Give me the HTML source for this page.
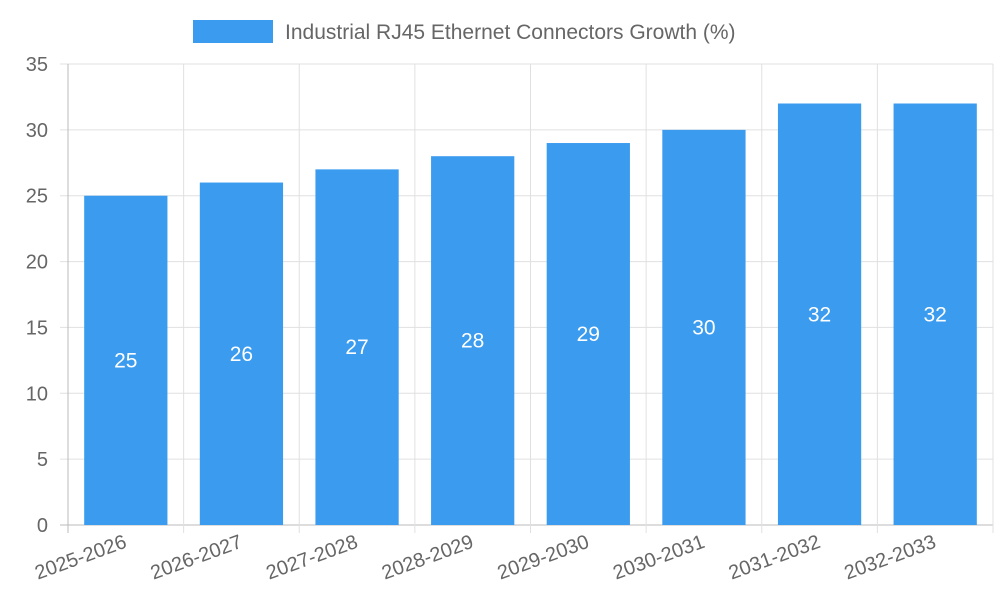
<!DOCTYPE html>
<html><head><meta charset="utf-8"><style>
body{margin:0;background:#fff;}
svg{display:block;font-family:"Liberation Sans",sans-serif;}
</style></head><body>
<svg id="chart" width="1000" height="600">
<g id="legend">
<rect x="193" y="20" width="80" height="23" fill="#3a9bef"></rect>
<text x="285" y="39" font-size="21" fill="#666">Industrial RJ45 Ethernet Connectors Growth (%)</text>
</g>
<g id="grid"></g><g id="bars"></g><g id="axes"></g>
</svg>
<script>
const categories=["2025-2026","2026-2027","2027-2028","2028-2029","2029-2030","2030-2031","2031-2032","2032-2033"];
const values=[25,26,27,28,29,30,32,32];
const yTicks=[0,5,10,15,20,25,30,35];
const NS="http://www.w3.org/2000/svg";
const L=68,R=993,T=64,B=525,yMax=35;
const bw=(R-L)/categories.length;
function x(i){return L+bw*i;}
function y(v){return B-(B-T)*v/yMax;}
function mk(p,tag,a){const e=document.createElementNS(NS,tag);for(const k in a)e.setAttribute(k,a[k]);p.appendChild(e);return e;}
const grid=document.getElementById('grid'),bars=document.getElementById('bars'),axes=document.getElementById('axes');
yTicks.forEach(t=>{
 const gl=mk(grid,'line',{x1:60,x2:R,y1:y(t),y2:y(t),stroke:t===0?'#bbb':'#e0e0e0','stroke-width':1});
 
 
 const tx=mk(axes,'text',{x:48,y:y(t)+7,'font-size':20,fill:'#666','text-anchor':'end'});
 tx.textContent=t;
 
 
});
for(let i=0;i<=categories.length;i++){
 const gl=mk(grid,'line',{x1:x(i),x2:x(i),y1:T,y2:B+8,stroke:i===0?'#bbb':'#e0e0e0','stroke-width':1});
 
 
}
categories.forEach((c,i)=>{
 const v=values[i],cx=x(i)+bw/2,w=bw*0.72;
 const r=mk(bars,'rect',{x:cx-w/2,y:y(v),width:w,height:B-y(v),fill:'#3a9bef'});
 
 
 const vl=mk(bars,'text',{x:cx,y:(y(v)+B)/2+7,'font-size':21,fill:'#fff','text-anchor':'middle'});
 vl.textContent=v;
 
 
 const xl=mk(axes,'text',{x:cx+2,y:B+22,'font-size':20,fill:'#666','text-anchor':'end',transform:`rotate(-20 ${cx+2} ${B+22})`});
 xl.textContent=c;
 
 
});
</script>
</body></html>
